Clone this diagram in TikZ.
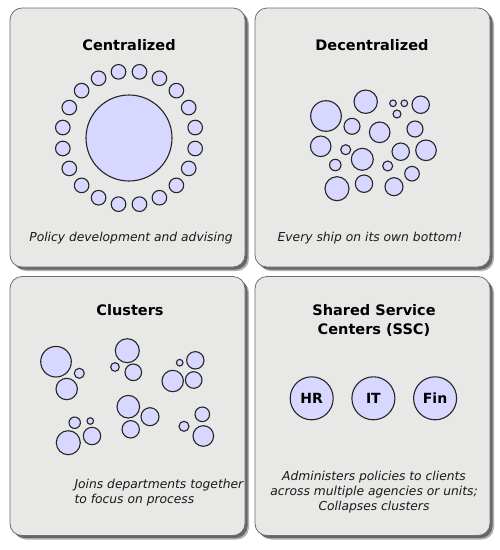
\documentclass[tikz,border=0pt]{standalone}
\usepackage{fontspec}
\setmainfont{DejaVu Sans}
\usepackage{tikz}
\usetikzlibrary{shapes}
\usetikzlibrary{shadows}
\usetikzlibrary{positioning}
\definecolor{unitfill}{HTML}{D7D7FF}
\definecolor{panelfill}{HTML}{E8E8E6}
\definecolor{panelline}{HTML}{6E6E6E}
\tikzstyle{panel} = [
    shape=rectangle,
    draw=panelline,
    fill=panelfill,
    line width=0.8pt,
    rounded corners=12pt,
    minimum width=235pt,
    minimum height=259pt,
    general shadow={fill=black!30, shadow xshift=4pt, shadow yshift=-4pt},
    general shadow={fill=black!60, shadow xshift=2.5pt, shadow yshift=-2.5pt}
]
\tikzstyle{unit} = [
    shape=circle,
    draw=black!85,
    fill=unitfill,
    line width=1.1pt,
    inner sep=0pt
]
\tikzstyle{heading} = [
    anchor=base,
    align=center,
    font=\bfseries\fontsize{14.5}{19}\selectfont
]
\tikzstyle{remark} = [
    anchor=base,
    align=center,
    text=black!90,
    font=\itshape\fontsize{12.3}{15}\selectfont
]

\begin{document}
\begin{tikzpicture}[x=1pt, y=-1pt]
\useasboundingbox (0,0) rectangle (500,550);

\node[panel] (pCentral) at (127.5,137.5) {};
\node[panel] (pDecentral) at (372.5,137.5) {};
\node[panel] (pCluster) at (127.5,406) {};
\node[panel] (pShared) at (372.5,406) {};

\node[heading] (tCentral) at (129,50) {Centralized};
\node[heading] (tDecentral) at (372,50) {Decentralized};
\node[heading] (tCluster) at (130,315) {Clusters};
\node[heading] (tShared) at (374,334) {Shared Service\\Centers (SSC)};

\node[unit, minimum size=86pt] (hub) at (129,138) {};
\foreach \a [count=\i] in {9,27,...,351}
    \node[unit, minimum size=14.6pt] (ring\i) at ([shift={(\a:67)}]hub) {};

\foreach \x/\y/\d [count=\i] in {326/116/30.6, 365.7/101.7/23.4, 393/103.3/6.6,
    404.3/103.3/6.6, 420.7/104.7/17.4, 397/114/8, 352/126.3/16, 379.7/132.3/20.6,
    415/129/16, 320.7/146.3/20.6, 345.7/149.7/10, 362.3/159.3/22, 400.7/151.7/17.4,
    426/150.3/20.6, 335.3/165/11.4, 387.7/166/10, 412/173.7/14.6, 337/188.7/24,
    364/183.7/17.4, 394/186.7/18}
    \node[unit, minimum size=\d pt] (agency\i) at (\x,\y) {};

\foreach \x/\y/\d [count=\i] in {56/361.7/30.6, 79.3/373.3/10, 66.7/389/21.4,
    127.3/350.7/24, 115/367/8.6, 133.3/372.3/16.6, 179.7/362.7/6.6, 195.3/360.3/17.4,
    172.7/381/21.4, 193.7/380/16.6, 128.3/406.7/22.6, 150/416.7/18, 130.7/429.3/17.4,
    74.7/422.7/11.4, 90.3/421/6.6, 92/436/17.4, 68.3/442.7/24, 202.3/414.3/14.6,
    184/426.3/10, 203.3/436/20.6}
    \node[unit, minimum size=\d pt] (dept\i) at (\x,\y) {};

\node[unit, minimum size=43pt, font=\bfseries\fontsize{14}{16}\selectfont] (hr) at (311.7,398.3) {HR};
\node[unit, minimum size=43pt, font=\bfseries\fontsize{14}{16}\selectfont, right=17.6pt of hr] (it) {IT};
\node[unit, minimum size=43pt, font=\bfseries\fontsize{14}{16}\selectfont, right=17.6pt of it] (fin) {Fin};

\node[remark] (cCentral) at (131,241.7) {Policy development and advising};
\node[remark] (cDecentral) at (370,241.7) {Every ship on its own bottom!};
\node[remark, anchor=base west, align=left] (cCluster) at (71,503) {Joins departments together\\to focus on process};
\node[remark] (cShared) at (374,510) {Administers policies to clients\\across multiple agencies or units;\\Collapses clusters};

\end{tikzpicture}
\end{document}
